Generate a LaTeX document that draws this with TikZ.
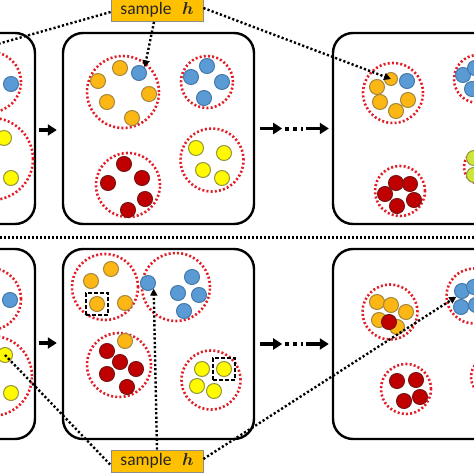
\documentclass[tikz,border=0pt]{standalone}
\usepackage{amsmath}
\usepackage{fontspec}
\newfontfamily\labfont{Carlito}
\usetikzlibrary{arrows.meta}
\definecolor{cOr}{RGB}{252,183,20}
\definecolor{cOrD}{RGB}{165,135,60}
\definecolor{cBl}{RGB}{91,155,213}
\definecolor{cBlD}{RGB}{70,120,170}
\definecolor{cRd}{RGB}{192,0,0}
\definecolor{cRdD}{RGB}{120,20,20}
\definecolor{cYe}{RGB}{255,250,0}
\definecolor{cYeD}{RGB}{150,150,60}
\definecolor{cYg}{RGB}{205,230,60}
\definecolor{cGrp}{RGB}{225,30,40}
\definecolor{cLab}{RGB}{255,192,0}
\tikzset{
  panel/.style={draw=black, line width=2.4pt, rounded corners=20pt, minimum width=191pt, minimum height=191pt, inner sep=0pt},
  grp/.style={circle, draw=cGrp, line width=2.6pt, dash pattern=on 2pt off 2.2pt, inner sep=0pt},
  dotc/.style={circle, line width=1pt, minimum size=15pt, inner sep=0pt},
  od/.style={dotc, fill=cOr, draw=cOrD},
  bd/.style={dotc, fill=cBl, draw=cBlD},
  rd/.style={dotc, fill=cRd, draw=cRdD},
  yd/.style={dotc, fill=cYe, draw=cYeD},
  gd/.style={dotc, fill=cYg, draw=cYeD},
  selbox/.style={draw=black, line width=1.8pt, dash pattern=on 4pt off 2pt, minimum size=22pt, inner sep=0pt},
  lab/.style={fill=cLab, draw=black!45, line width=0.8pt, minimum width=92pt, minimum height=23pt, inner sep=0pt, font=\labfont\fontsize{17.5}{19}\selectfont, text=black!85},
  link/.style={draw=black, line width=2.4pt, dash pattern=on 2.2pt off 2.2pt},
  linkarrow/.style={link, -{Triangle[length=7pt,width=7pt]}},
  bigarrow/.style={draw=black, line width=3.6pt, -{Triangle[length=9pt,width=11pt]}},
  bigdots/.style={draw=black, line width=4pt, dash pattern=on 4pt off 4pt},
  sep/.style={draw=black, line width=2.2pt, dash pattern=on 2pt off 2pt}
}
\begin{document}
\begin{tikzpicture}[x=1pt,y=-1pt]
\useasboundingbox (0,0) rectangle (474,474);
\clip (0,0) rectangle (474,474);
\fill[white] (0,0) rectangle (474,474);

% ---------------- top row ----------------
\node[panel] (tl) at (-60.5,128.5) {};
\node[panel] (tm) at (158.5,128.5) {};
\node[panel] (tr) at (428.5,128.5) {};

% top-left panel
\node[grp, minimum size=60pt] (tlA) at (-9,82) {};
\node[bd] (tlA1) at (11,84) {};
\node[grp, minimum size=82pt] (tlB) at (-8,159) {};
\node[yd] (tlB1) at (4,138) {};
\node[yd] (tlB2) at (11,178) {};

% top-middle panel
\node[grp, minimum size=72pt] (tmA) at (123,92) {};
\node[od] (tmA1) at (120,68) {};
\node[od] (tmA2) at (98,81) {};
\node[od] (tmA3) at (107,102) {};
\node[od] (tmA4) at (149,94) {};
\node[od] (tmA5) at (132,118) {};
\node[bd] (tmA6) at (139,73) {};
\node[grp, minimum size=52pt] (tmB) at (207,82) {};
\node[bd] (tmB1) at (207,66) {};
\node[bd] (tmB2) at (191,77) {};
\node[bd] (tmB3) at (222,82) {};
\node[bd] (tmB4) at (204,98) {};
\node[grp, minimum size=64pt] (tmC) at (128,185) {};
\node[rd] (tmC1) at (124,164) {};
\node[rd] (tmC2) at (108,183) {};
\node[rd] (tmC3) at (142,178) {};
\node[rd] (tmC4) at (145,199) {};
\node[rd] (tmC5) at (128,210) {};
\node[grp, minimum size=63pt] (tmD) at (212,160) {};
\node[yd] (tmD1) at (196,148) {};
\node[yd] (tmD2) at (224,153) {};
\node[yd] (tmD3) at (203,170) {};
\node[yd] (tmD4) at (222,178) {};

% top-right panel
\node[grp, minimum size=60pt] (trA) at (393,93) {};
\node[od] (trA1) at (377,87) {};
\node[od] (trA2) at (380,102) {};
\node[od] (trA3) at (408,100) {};
\node[od] (trA4) at (396,111) {};
\node[bd] (trA5) at (407,81) {};
\node[od, minimum size=13pt] (trA6) at (391,79) {};
\node[grp, minimum size=48pt] (trB) at (478,79) {};
\node[bd] (trB1) at (463,75) {};
\node[bd] (trB2) at (475,68) {};
\node[bd] (trB3) at (472,89) {};
\node[bd] (trB4) at (486,80) {};
\node[grp, minimum size=34pt] (trC) at (481,167) {};
\node[gd] (trC1) at (474,158) {};
\node[gd] (trC2) at (474,175) {};
\node[grp, minimum size=50pt] (trD) at (400,191) {};
\node[rd] (trD1) at (396,183) {};
\node[rd] (trD2) at (410,184) {};
\node[rd] (trD3) at (385,194) {};
\node[rd] (trD4) at (397,206) {};
\node[rd] (trD5) at (414,200) {};

% top arrows
\draw[bigarrow] ([xshift=3pt,yshift=-1.5pt]tl.east) -- ([xshift=-5pt,yshift=-1.5pt]tm.west);
\draw[bigarrow] ([xshift=5pt]tm.east) -- ([xshift=27pt]tm.east);
\draw[bigdots] ([xshift=30pt]tm.east) -- ([xshift=-29pt]tr.west);
\draw[bigarrow] ([xshift=-26pt]tr.west) -- ([xshift=-3pt]tr.west);

% top label
\node[lab] (lt) at (157,10) {sample\hspace{0.6em}$\boldsymbol{h}$};
\coordinate (tlEnd) at (-20,49);
\draw[link] ([yshift=-2pt]lt.west) -- (tlEnd);
\draw[linkarrow] ([yshift=2pt]lt.east) -- (trA6.center);
\draw[linkarrow] ([xshift=-3pt]lt.south) -- (tmA6.north east);

% separator
\coordinate (sepL) at (0,237.5);
\coordinate (sepR) at (474,237.5);
\draw[sep] (sepL) -- (sepR);

% ---------------- bottom row ----------------
\node[panel, minimum height=190pt] (bl) at (-60.5,344) {};
\node[panel, minimum height=190pt] (bm) at (158.5,344) {};
\node[panel, minimum height=190pt] (br) at (428.5,344) {};

% bottom-left panel
\node[grp, minimum size=62pt] (blA) at (-10,299) {};
\node[bd] (blA1) at (10,300) {};
\node[grp, minimum size=80pt] (blB) at (-8,376) {};
\node[yd] (blB1) at (5,355) {};
\node[yd] (blB2) at (11,393) {};

% bottom-middle panel
\node[grp, minimum size=66pt] (bmA) at (105,287) {};
\node[od] (bmA1) at (111,269) {};
\node[od] (bmA2) at (91,281) {};
\node[od] (bmA3) at (97,304) {};
\node[od] (bmA4) at (125,303) {};
\node[selbox] (bmS1) at (bmA3) {};
\node[grp, minimum size=68pt] (bmB) at (176,287) {};
\node[bd] (bmB1) at (148,283) {};
\node[bd] (bmB2) at (192,277) {};
\node[bd] (bmB3) at (178,293) {};
\node[bd] (bmB4) at (199,295) {};
\node[bd] (bmB5) at (184,311) {};
\node[grp, minimum size=64pt] (bmC) at (119,365) {};
\node[od] (bmC1) at (125,341) {};
\node[rd] (bmC2) at (107,351) {};
\node[rd] (bmC3) at (120,362) {};
\node[rd] (bmC4) at (107,374) {};
\node[rd] (bmC5) at (136,369) {};
\node[rd] (bmC6) at (127,387) {};
\node[grp, minimum size=59pt] (bmD) at (211,380) {};
\node[yd] (bmD1) at (202,369) {};
\node[yd] (bmD2) at (224,369) {};
\node[yd] (bmD3) at (197,386) {};
\node[yd] (bmD4) at (214,391) {};
\node[selbox] (bmS2) at (bmD2) {};

% bottom-right panel
\node[grp, minimum size=55pt] (brA) at (390,312) {};
\node[od] (brA1) at (377,302) {};
\node[od] (brA2) at (391,305) {};
\node[od] (brA3) at (406,312) {};
\node[od] (brA4) at (379,320) {};
\node[od] (brA5) at (397,327) {};
\node[rd] (brA6) at (389,322) {};
\node[grp, minimum size=55pt] (brB) at (474,296) {};
\node[bd] (brB1) at (462,291) {};
\node[bd] (brB2) at (474,287) {};
\node[bd] (brB3) at (461,307) {};
\node[bd] (brB4) at (476,305) {};
\node[grp, minimum size=40pt] (brC) at (491,377) {};
\node[grp, minimum size=50pt] (brD) at (406,389) {};
\node[rd] (brD1) at (397,381) {};
\node[rd] (brD2) at (416,380) {};
\node[rd] (brD3) at (404,401) {};
\node[rd] (brD4) at (420,397) {};

% bottom arrows
\draw[bigarrow] ([xshift=3pt,yshift=1pt]bl.east) -- ([xshift=-5pt,yshift=1pt]bm.west);
\draw[bigarrow] ([xshift=5pt]bm.east) -- ([xshift=27pt]bm.east);
\draw[bigdots] ([xshift=30pt]bm.east) -- ([xshift=-29pt]br.west);
\draw[bigarrow] ([xshift=-26pt]br.west) -- ([xshift=-3pt]br.west);

% bottom label
\node[lab, minimum height=22pt] (lb) at (157,461) {sample\hspace{0.6em}$\boldsymbol{h}$};
\draw[link] (blB1.center) -- ([yshift=-4pt]lb.west);
\draw[linkarrow] (lb.north) -- (bmB1.south east);
\draw[linkarrow] ([yshift=2pt]lb.east) -- (brB1.south west);
\end{tikzpicture}
\end{document}
